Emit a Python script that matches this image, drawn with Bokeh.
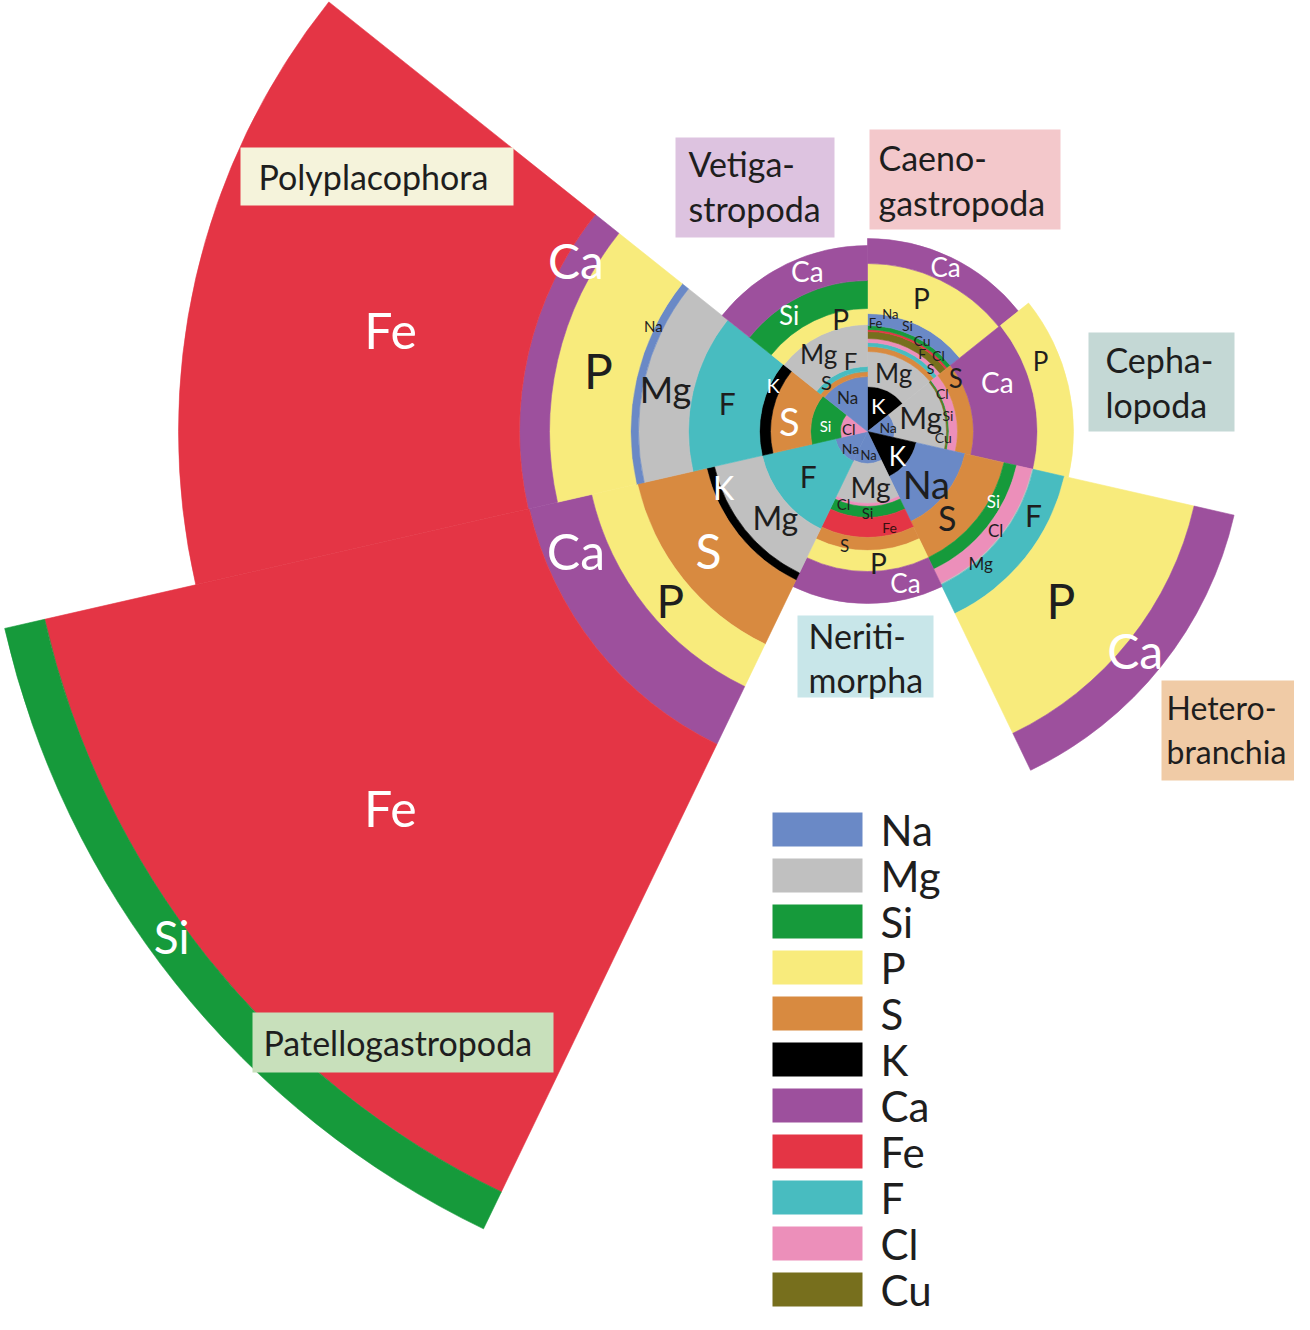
import math
from bokeh.plotting import figure
from bokeh.models import ColumnDataSource, Range1d
from bokeh.core.properties import value
from bokeh.embed import file_html
from bokeh.resources import INLINE

# ---------------- data ----------------
taxa = ["Caenogastropoda", "Cephalopoda", "Heterobranchia", "Neritimorpha",
        "Patellogastropoda", "Polyplacophora", "Vetigastropoda"]

# ring thickness of every element, listed from the centre outwards
caeno_elements = ["K", "Mg", "S", "F", "Cl", "Cu", "Fe", "Si", "Na", "P", "Ca"]
caeno_values = [45, 35, 5, 4, 4, 7, 2, 4, 12, 50, 25]

cephalo_elements = ["Na", "Mg", "Cu", "Si", "Cl", "S", "Ca", "P"]
cephalo_values = [27, 52, 1.5, 1, 8.5, 16, 64, 36]

hetero_elements = ["K", "Na", "S", "Si", "Cl", "Mg", "F", "P", "Ca"]
hetero_values = [50, 50, 40, 13, 16, 1, 32, 133, 41]

nerito_elements = ["Na", "Mg", "Cl", "Si", "Fe", "S", "P", "Ca"]
nerito_values = [32, 40, 3, 11, 20, 13, 21, 32]

patello_elements = ["Na", "F", "Mg", "K", "S", "P", "Ca", "Fe", "Si"]
patello_values = [33, 75, 49, 8, 71, 47, 64, 497, 41]

polyplaco_elements = ["Cl", "Si", "S", "K", "F", "Mg", "Na", "P", "Ca", "Fe"]
polyplaco_values = [27, 30, 40, 11, 71, 50, 8, 81, 30, 341]

vetiga_elements = ["Na", "S", "F", "Mg", "P", "Si", "Ca"]
vetiga_values = [55, 5, 5, 42, 16, 28, 35]

legend_elements = ["Na", "Mg", "Si", "P", "S", "K", "Ca", "Fe", "F", "Cl", "Cu"]

# ---------------- styles ----------------
element_colors = {
    "Na": "#6a89c6", "Mg": "#c0c0c0", "Si": "#169a3b", "P": "#f8eb7c",
    "S": "#d88a40", "K": "#000000", "Ca": "#9d509d", "Fe": "#e43545",
    "F": "#48bcc0", "Cl": "#ec8fba", "Cu": "#776f1d",
}
BLK = "#1e1e1e"
WHT = "#ffffff"

# label placement: (angle clockwise from top in deg, radius, font px, colour)
label_style = {
    "Caenogastropoda": [(22.9, 28, 22, WHT), (24.1, 64, 26, BLK), (45, 89, 14, BLK),
                        (35.2, 95, 14, BLK), (43, 104, 14, BLK), (31, 106, 14, BLK),
                        (4.2, 109, 13, BLK), (20.7, 113, 14, BLK), (11, 120, 13, BLK),
                        (22, 144, 28, BLK), (25.4, 182, 26, WHT)],
    "Cephalopoda": [(79, 21, 14, BLK), (75, 55, 30, BLK), (94.5, 76, 14, BLK),
                    (78.7, 82, 14, BLK), (63, 84, 14, BLK), (58.9, 103, 26, BLK),
                    (69, 139, 28, WHT), (67.7, 187, 26, BLK)],
    "Heterobranchia": [(129.8, 39, 26, WHT), (131.9, 79, 38, BLK), (137, 117, 34, BLK),
                       (119, 144, 17, WHT), (127.7, 162, 17, BLK), (139.4, 174, 17, BLK),
                       (116.8, 186, 30, BLK), (131.2, 257, 48, BLK), (129.3, 346, 48, WHT)],
    "Neritimorpha": [(177.6, 24, 13, BLK), (177, 56, 28, BLK), (198.4, 76, 15, BLK),
                     (180, 81, 15, BLK), (167, 98.5, 14, "#3a1010"), (191.4, 116, 17, BLK),
                     (175.2, 131.5, 28, BLK), (165.9, 156, 26, WHT)],
    "Patellogastropoda": [(225, 24, 14, BLK), (233.3, 74, 30, BLK), (227, 126, 32, BLK),
                          (248.7, 154.5, 32, WHT), (233.2, 198.6, 48, WHT),
                          (229.4, 259.6, 46, BLK), (247.8, 315, 50, WHT),
                          (231.7, 608, 50, WHT), (234, 860, 46, WHT)],
    "Polyplacophora": [(279, 19, 15, BLK), (278, 42.4, 15, WHT), (278, 79, 38, WHT),
                       (296, 105, 20, WHT), (281.3, 143, 30, BLK), (282, 206.5, 36, BLK),
                       (296.3, 239, 15, BLK), (282.8, 276, 48, BLK), (300.4, 338, 48, WHT),
                       (282, 487.6, 50, WHT)],
    "Vetigastropoda": [(329.5, 39.4, 17, BLK), (320.6, 64.7, 20, BLK), (346.5, 73, 24, BLK),
                       (327.9, 92, 26, BLK), (346.6, 116, 28, BLK), (326, 140, 26, WHT),
                       (339.4, 171, 28, WHT)],
}

# taxon name boxes: lines, left x, line y's, box (x0, y0, x1, y1), fill, font px
taxon_boxes = [
    (["Polyplacophora"], 258, [176], (240, 147, 513, 205), "#f5f3db", 34),
    (["Vetiga-", "stropoda"], 688, [163, 208], (675, 137, 834, 237), "#ddc3e0", 34),
    (["Caeno-", "gastropoda"], 878, [157, 202], (869, 129, 1060, 229), "#f3c8cb", 34),
    (["Cepha-", "lopoda"], 1105, [359, 404], (1088, 332, 1234, 431), "#c4d8d5", 34),
    (["Neriti-", "morpha"], 808, [635, 679], (797, 615, 933, 697), "#c8e6e9", 34),
    (["Hetero-", "branchia"], 1166, [707, 751], (1161, 680, 1307, 780), "#f0cba6", 32),
    (["Patellogastropoda"], 263, [1042], (252, 1012, 553, 1072), "#c8e0bb", 34),
]

stacks = {
    "Caenogastropoda": (caeno_elements, caeno_values),
    "Cephalopoda": (cephalo_elements, cephalo_values),
    "Heterobranchia": (hetero_elements, hetero_values),
    "Neritimorpha": (nerito_elements, nerito_values),
    "Patellogastropoda": (patello_elements, patello_values),
    "Polyplacophora": (polyplaco_elements, polyplaco_values),
    "Vetigastropoda": (vetiga_elements, vetiga_values),
}

# ---------------- figure ----------------
W, H = 1294, 1314
CX, CY = 867, -431          # centre of the rose (page pixel coords, y downward -> negative)
FONT = value("Lato")

p = figure(width=W, height=H, x_range=Range1d(0, W), y_range=Range1d(-H, 0),
           output_backend="svg", toolbar_location=None, min_border=0,
           x_axis_location=None, y_axis_location=None)
p.grid.visible = False
p.outline_line_color = None
p.background_fill_color = "white"
p.border_fill_color = "white"

n = len(taxa)
step = 360.0 / n
wx, wy, wir, wor, wsa, wea, wcol = [], [], [], [], [], [], []
lx, ly, lt, lfs, lcol = [], [], [], [], []
for i, t in enumerate(taxa):
    els, vals = stacks[t]
    th1, th2 = i * step, (i + 1) * step
    r0 = 0.0
    for j, (e, v) in enumerate(zip(els, vals)):
        wx.append(CX); wy.append(CY)
        wir.append(r0); wor.append(r0 + v)
        wsa.append(math.radians(90 - th2)); wea.append(math.radians(90 - th1))
        wcol.append(element_colors[e])
        r0 += v
        ang, rr, fs, col = label_style[t][j]
        a = math.radians(90 - ang)
        lx.append(CX + rr * math.cos(a)); ly.append(CY + rr * math.sin(a))
        lt.append(e); lfs.append(f"{fs}px"); lcol.append(col)

wsrc = ColumnDataSource(dict(x=wx, y=wy, ir=wir, orr=wor, sa=wsa, ea=wea, color=wcol))
p.annular_wedge(x="x", y="y", inner_radius="ir", outer_radius="orr",
                start_angle="sa", end_angle="ea", fill_color="color",
                line_color="color", line_width=0.6, source=wsrc)

lsrc = ColumnDataSource(dict(x=lx, y=ly, text=lt, fs=lfs, color=lcol))
p.text(x="x", y="y", text="text", text_font_size="fs", text_color="color",
       text_font=FONT, text_align="center", text_baseline="middle", source=lsrc)

# taxon boxes
bx0, by0, bx1, by1, bcol = [], [], [], [], []
tx, ty, tt, tfs = [], [], [], []
for lines, left, ys, (x0, y0, x1, y1), fill, fsz in taxon_boxes:
    bx0.append(x0); bx1.append(x1); by0.append(-y1); by1.append(-y0); bcol.append(fill)
    for s, yy in zip(lines, ys):
        tx.append(left); ty.append(-yy); tt.append(s); tfs.append(f"{fsz}px")
p.quad(left=bx0, right=bx1, bottom=by0, top=by1, fill_color=bcol, line_color=None)
tsrc = ColumnDataSource(dict(x=tx, y=ty, text=tt, fs=tfs))
p.text(x="x", y="y", text="text", text_font=FONT, text_font_size="fs",
       text_color=BLK, text_align="left", text_baseline="middle", source=tsrc)

# legend
gx0, gx1, gy0, gy1, gcol, gtx, gty = [], [], [], [], [], [], []
for k, e in enumerate(legend_elements):
    yc = 829 + 46 * k
    gx0.append(772); gx1.append(862); gy0.append(-(yc + 17)); gy1.append(-(yc - 17))
    gcol.append(element_colors[e]); gtx.append(880); gty.append(-yc)
p.quad(left=gx0, right=gx1, bottom=gy0, top=gy1, fill_color=gcol, line_color=None)
p.text(x=gtx, y=gty, text=legend_elements, text_font=FONT, text_font_size="42px",
       text_color=BLK, text_align="left", text_baseline="middle")

open("out.html", "w").write(file_html(p, INLINE))
